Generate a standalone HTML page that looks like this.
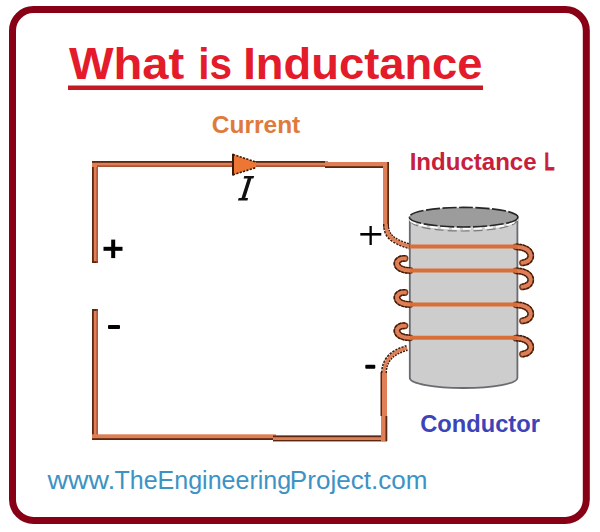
<!DOCTYPE html>
<html><head><meta charset="utf-8">
<style>
html,body{margin:0;padding:0;background:#fff;}
body{width:600px;height:532px;overflow:hidden;position:relative;}
svg{position:absolute;left:0;top:0;}
text{font-family:"Liberation Sans",sans-serif;}
.serif{font-family:"Liberation Serif",serif;}
</style></head><body>
<svg width="600" height="532" viewBox="0 0 600 532">
  <rect x="12.5" y="9.5" width="573.8" height="511" rx="21" ry="21" fill="none" stroke="#880015" stroke-width="7"/>

  <text x="68.95" y="79" font-size="44" font-weight="bold" fill="#E31B2A" textLength="115.32" lengthAdjust="spacingAndGlyphs">What</text>
  <text x="198.17" y="79" font-size="44" font-weight="bold" fill="#E31B2A" textLength="33.79" lengthAdjust="spacingAndGlyphs">is</text>
  <text x="243.27" y="79" font-size="44" font-weight="bold" fill="#E31B2A" textLength="239.28" lengthAdjust="spacingAndGlyphs">Inductance</text>
  <text x="211.79" y="132.5" font-size="24.5" font-weight="bold" fill="#E07A3C" textLength="88.5" lengthAdjust="spacingAndGlyphs">Current</text>
  <text x="409.69" y="169.5" font-size="24" font-weight="bold" fill="#C8203C" textLength="126.93" lengthAdjust="spacingAndGlyphs">Inductance</text>
  <text x="544.61" y="169.5" font-size="24" font-weight="bold" stroke="#C8203C" stroke-width="0.8" fill="#C8203C" textLength="10.0" lengthAdjust="spacingAndGlyphs">L</text>
  <text x="420.23" y="432" font-size="23" font-weight="bold" fill="#3C44B8" textLength="119.63" lengthAdjust="spacingAndGlyphs">Conductor</text>
  <text x="47.54" y="488.7" font-size="25" fill="#3D93C4" textLength="67.9" lengthAdjust="spacingAndGlyphs">www.</text>
  <text x="114.44" y="488.7" font-size="25" fill="#3D93C4" textLength="176.67" lengthAdjust="spacingAndGlyphs">TheEngineering</text>
  <text x="289.86" y="488.7" font-size="25" fill="#3D93C4" textLength="137.55" lengthAdjust="spacingAndGlyphs">Project.com</text>

  <rect x="68" y="85.5" width="415" height="4.5" fill="#C41A24"/>

  <g id="wires">
    <rect x="92" y="161" width="6" height="102" fill="#DE7F58"/><rect x="92" y="161" width="1.8" height="102" fill="#5a2810"/><rect x="92" y="261.2" width="6" height="1.8" fill="#5a2810"/><rect x="96.5" y="161" width="1.2" height="102" fill="#A04A30"/>
    <rect x="92" y="161" width="236" height="6" fill="#DE7F58"/><rect x="92" y="161" width="233" height="1.8" fill="#5a2810"/><rect x="97" y="165.4" width="228" height="1.4" fill="#A04A30"/><rect x="325" y="162" width="64" height="6" fill="#DE7F58"/><rect x="325" y="166.2" width="64" height="1.8" fill="#5a2810"/>
    <rect x="383" y="162" width="6" height="66" fill="#DE7F58"/><rect x="387.3" y="162" width="1.7" height="66" fill="#5a2810"/>
    <path d="M386 224 C386 236, 392 241, 410 246.5" fill="none" stroke="#3f1a08" stroke-width="6" stroke-dasharray="2.2 1"/>
    <path d="M386 224 C386 236, 392 241, 410 246.5" fill="none" stroke="#DE7F58" stroke-width="3.4"/>
    <rect x="92" y="309" width="6" height="131" fill="#DE7F58"/><rect x="92" y="309" width="1.8" height="131" fill="#5a2810"/><rect x="92" y="309" width="6" height="2" fill="#5a2810"/><rect x="96.5" y="309" width="1.2" height="131" fill="#A04A30"/>
    <rect x="92" y="434.3" width="184" height="5.7" fill="#DE7F58"/><rect x="92" y="438.2" width="181" height="1.8" fill="#5a2810"/><rect x="273" y="435.5" width="114" height="5.8" fill="#DE7F58"/><rect x="273" y="435.5" width="114" height="1.7" fill="#5a2810"/><rect x="273" y="440" width="114" height="1.3" fill="#5a2810"/>
    <rect x="381" y="372" width="6" height="69" fill="#DE7F58"/><rect x="385.5" y="416" width="1.8" height="25" fill="#5a2810"/><rect x="380.5" y="372" width="1.5" height="44" fill="#5a2810"/>
    <path d="M384 373 C384 360, 392 352, 407 348" fill="none" stroke="#3f1a08" stroke-width="6" stroke-dasharray="2.2 1"/>
    <path d="M384 373 C384 360, 392 352, 407 348" fill="none" stroke="#DE7F58" stroke-width="3.2"/>
    <path d="M233 154.5 L256 162 L256 167.5 L233 174.8 Z" fill="#EE7634"/>
    <path d="M233 154.5 L255 161.7 M233 174.8 L256 167.6" fill="none" stroke="#3a1a08" stroke-width="1.6" stroke-dasharray="2.2 1.3"/>
    <path d="M233 153.8 L233 175.5" fill="none" stroke="#3a1a08" stroke-width="2"/>
  </g>

  <path d="M244.3 175.9 L254.2 175.9 L253.4 178.4 L251.4 178.4 L245.2 197.9 L248.1 197.9 L247.4 200.5 L237.9 200.5 L238.7 197.9 L241.5 197.9 L247.7 178.4 L243.6 178.4 Z" fill="#111"/>

  <rect x="103.5" y="246.8" width="19" height="4" fill="#000"/>
  <rect x="111.2" y="239.6" width="4" height="18.5" fill="#000"/>
  <rect x="108" y="325" width="12" height="4" rx="1" fill="#000"/>
  <rect x="360.3" y="233" width="21" height="2.6" fill="#000"/>
  <rect x="369.5" y="226" width="2.3" height="19" fill="#000"/>
  <rect x="365.3" y="364.7" width="10" height="4" rx="1" fill="#000"/>

  <g id="cyl">
    <path d="M409.8 217 L409.8 378 A53.8 10 0 0 0 517.4 378 L517.4 217 Z" fill="#CDCDCD" stroke="#6a6a70" stroke-width="1.8"/>
    <path d="M411 221 A52.6 10 0 0 0 516.2 221" fill="none" stroke="#7a7a7a" stroke-width="1.2" stroke-dasharray="9 4"/>
    <path d="M410 219 A53.6 9.6 0 0 0 517.2 219" fill="none" stroke="#fff" stroke-width="2.2" stroke-dasharray="8 3"/>
    <ellipse cx="463.6" cy="217.2" rx="54.3" ry="9.8" fill="#9C9C9C" stroke="#262626" stroke-width="1.6" stroke-dasharray="14 2.5"/>
  </g>

  <g id="coil" fill="none" stroke-linecap="round">
    <path d="M516 246.8 C533 246.5, 535.5 261.5, 522.5 262.8 M516 270.8 C533 270.5, 535.5 285.5, 522.5 286.8 M516 304.8 C533 304.5, 535.5 319.5, 522.5 320.8 M516 338.1 C533 337.8, 535.5 352.8, 522.5 354.1 M405 258.5 C394 257.5, 393 270.5, 410 270.5 M405 292.5 C394 291.5, 393 304.5, 410 304.5 M405 325.8 C394 324.8, 393 337.8, 410 337.8" stroke="#7a3a1a" stroke-width="6.8"/>
    <path d="M516 246.8 C533 246.5, 535.5 261.5, 522.5 262.8 M516 270.8 C533 270.5, 535.5 285.5, 522.5 286.8 M516 304.8 C533 304.5, 535.5 319.5, 522.5 320.8 M516 338.1 C533 337.8, 535.5 352.8, 522.5 354.1 M405 258.5 C394 257.5, 393 270.5, 410 270.5 M405 292.5 C394 291.5, 393 304.5, 410 304.5 M405 325.8 C394 324.8, 393 337.8, 410 337.8" stroke="#3f1a08" stroke-width="6.8" stroke-dasharray="2.2 1" stroke-linecap="butt"/>
    <path d="M516 246.8 C533 246.5, 535.5 261.5, 522.5 262.8 M516 270.8 C533 270.5, 535.5 285.5, 522.5 286.8 M516 304.8 C533 304.5, 535.5 319.5, 522.5 320.8 M516 338.1 C533 337.8, 535.5 352.8, 522.5 354.1 M405 258.5 C394 257.5, 393 270.5, 410 270.5 M405 292.5 C394 291.5, 393 304.5, 410 304.5 M405 325.8 C394 324.8, 393 337.8, 410 337.8" stroke="#DE7F58" stroke-width="3.8"/>
    <g stroke="#DA6E38" stroke-width="4" stroke-linecap="butt">
      <line x1="410" y1="246.5" x2="517.5" y2="246.5"/>
      <line x1="410" y1="270.5" x2="517.5" y2="270.5"/>
      <line x1="410" y1="304.5" x2="517.5" y2="304.5"/>
      <line x1="410" y1="337.8" x2="517.5" y2="337.8"/>
    </g>
  </g>
</svg>
</body></html>
